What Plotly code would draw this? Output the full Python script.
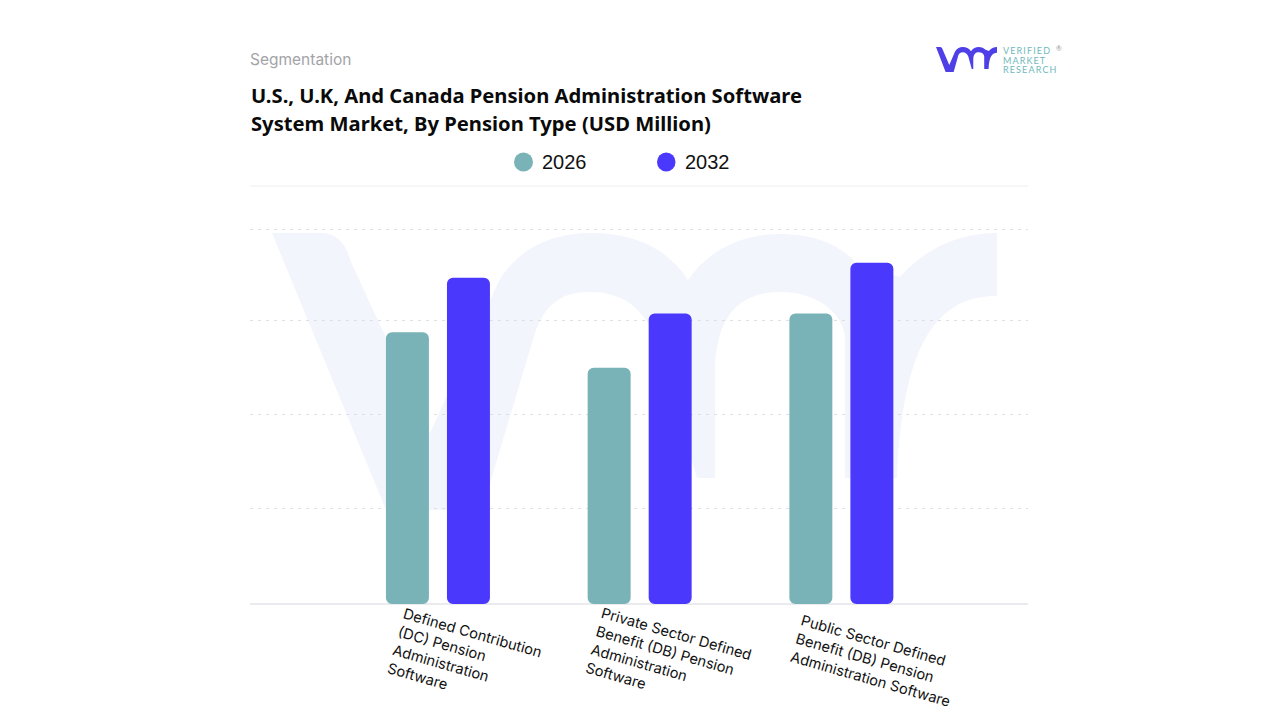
import plotly.graph_objects as go

categories = [
    "Defined Contribution<br>(DC) Pension<br>Administration<br>Software",
    "Private Sector Defined<br>Benefit (DB) Pension<br>Administration<br>Software",
    "Public Sector Defined<br>Benefit (DB) Pension<br>Administration Software",
]
values_2026 = [2.90, 2.52, 3.10]
values_2032 = [3.48, 3.10, 3.64]
grid_ticks = [1.02, 2.02, 3.02, 4.0]
series_names = ["2026", "2032"]
title_lines = [
    "U.S., U.K, And Canada Pension Administration Software",
    "System Market, By Pension Type (USD Million)",
]
logo_words = ["VERIFIED", "MARKET", "RESEARCH"]

TEAL = "#7ab3b7"
BLUE = "#4b38fd"
PLOT_L, PLOT_R, PLOT_T, PLOT_B = 250, 1028, 186, 604
BODY = 8  # the page keeps its default body margin
x_idx = [0, 1, 2]


# pixel position to paper coordinates, used for the decoration only
def px(x):
    return (x - PLOT_L) / (PLOT_R - PLOT_L)


def py(y):
    return (PLOT_B - y) / (PLOT_B - PLOT_T)


# outline of the vmr logo, in screen pixels of the big watermark
vmr_outline = [
    ("M", [(272, 233)]),
    ("L", [(322, 233)]),
    ("C", [(338, 233), (346, 245), (351, 262)]),
    ("L", [(430, 433)]),
    ("L", [(497, 285)]),
    ("C", [(515, 250), (550, 233), (590, 233)]),
    ("C", [(630, 233), (665, 245), (688, 280)]),
    ("C", [(710, 248), (745, 234), (780, 234)]),
    ("C", [(815, 234), (840, 245), (855, 262)]),
    ("L", [(900, 277)]),
    ("C", [(925, 248), (960, 233), (997, 233)]),
    ("L", [(997, 296)]),
    ("C", [(945, 296), (903, 330), (897, 478)]),
    ("L", [(845, 478)]),
    ("L", [(845, 335)]),
    ("C", [(840, 310), (815, 292), (780, 292)]),
    ("C", [(745, 292), (716, 310), (715, 370)]),
    ("L", [(715, 478)]),
    ("L", [(697, 478)]),
    ("L", [(655, 335)]),
    ("C", [(640, 305), (620, 292), (590, 292)]),
    ("C", [(560, 292), (545, 305), (535, 333)]),
    ("L", [(482, 510)]),
    ("L", [(386, 510)]),
    ("Z", []),
]


def outline_path(fx, fy):
    parts = []
    for cmd, pts in vmr_outline:
        parts.append(cmd + " ".join(f"{fx(a):.5f},{fy(b):.5f}" for a, b in pts))
    return " ".join(parts)


def logo_x(x):
    return px(936 + (x - 272) * 61 / 725)


def logo_y(y):
    return py(47 + (y - 233) * 25 / 277)


fig = go.Figure()

# giving a base makes plotly round the foot of the bar too
for vals, offset, color in [(values_2026, -0.258, TEAL), (values_2032, 0.0445, BLUE)]:
    fig.add_trace(go.Bar(x=x_idx, y=vals, base=0, width=0.213, offset=offset,
                         marker=dict(color=color, cornerradius=6, line_width=0), showlegend=False))

shapes = [
    dict(type="path", path=outline_path(px, py), xref="paper", yref="paper",
         fillcolor="#f3f5fd", line_width=0, layer="below"),
    dict(type="path", path=outline_path(logo_x, logo_y), xref="paper", yref="paper",
         fillcolor="#4f3fe6", line_width=0),
    dict(type="line", xref="paper", yref="paper", x0=0, x1=1, y0=1, y1=1,
         line=dict(color="#eeeef0", width=1)),
    dict(type="circle", xref="paper", yref="paper", x0=px(514), x1=px(533), y0=py(171.5), y1=py(152.5),
         fillcolor=TEAL, line_width=0),
    dict(type="circle", xref="paper", yref="paper", x0=px(657), x1=px(675.5), y0=py(171.5), y1=py(152.5),
         fillcolor=BLUE, line_width=0),
]


def text(x, y, s, size, color, family, **kw):
    return dict(x=px(x), y=py(y), xref="paper", yref="paper", text=s, showarrow=False,
                xanchor=kw.pop("xanchor", "left"), yanchor="middle",
                font=dict(size=size, color=color, family=family), **kw)


annotations = [
    text(248, 59.5, "Segmentation", 15.5, "#a3a3a8", "Inter"),
    text(249, 95, "<b>" + title_lines[0] + "</b>", 20.2, "#0a0a0a", "Noto Sans"),
    text(249, 123, "<b>" + title_lines[1] + "</b>", 20.2, "#0a0a0a", "Noto Sans"),
    text(540, 161.5, series_names[0], 20, "#111111", "Liberation Sans"),
    text(683, 162, series_names[1], 20, "#111111", "Liberation Sans"),
    text(1001, 50.5, "\u2009".join(logo_words[0]), 9, "#6fb9bb", "Lato"),
    text(1001, 60, "\u2009".join(logo_words[1]), 9, "#6fb9bb", "Lato"),
    text(1001, 69.5, "\u2009".join(logo_words[2]), 9, "#6fb9bb", "Lato"),
    text(1054, 48, "®", 7, "#9a9a9a", "Lato"),
]

label_y = [660, 661, 661]
label_shift = [27, 29, 34]
for i, cat in enumerate(categories):
    annotations.append(dict(x=i, y=py(label_y[i]), xref="x", yref="paper", xshift=label_shift[i],
                            text=cat, showarrow=False, textangle=16, align="left",
                            xanchor="center", yanchor="middle",
                            font=dict(size=14.6, color="#111111", family="Inter")))

fig.update_layout(
    width=1280 - BODY, height=720 - BODY, autosize=False,
    margin=dict(l=PLOT_L - BODY, r=1280 - PLOT_R, t=PLOT_T - BODY, b=720 - PLOT_B),
    paper_bgcolor="white", plot_bgcolor="rgba(0,0,0,0)",
    barmode="overlay", showlegend=False,
    shapes=shapes, annotations=annotations,
    xaxis=dict(range=[-0.932, 2.925], showticklabels=False, ticks="", showgrid=False,
               showline=False, zeroline=False),
    yaxis=dict(range=[0, 4.46], tickvals=grid_ticks, showticklabels=False, ticks="", showline=False,
               showgrid=True, gridcolor="#dfdfe3", griddash="3px,5px", gridwidth=1,
               zeroline=True, zerolinecolor="#e9ebef", zerolinewidth=2),
)

fig.write_html("out.html")
